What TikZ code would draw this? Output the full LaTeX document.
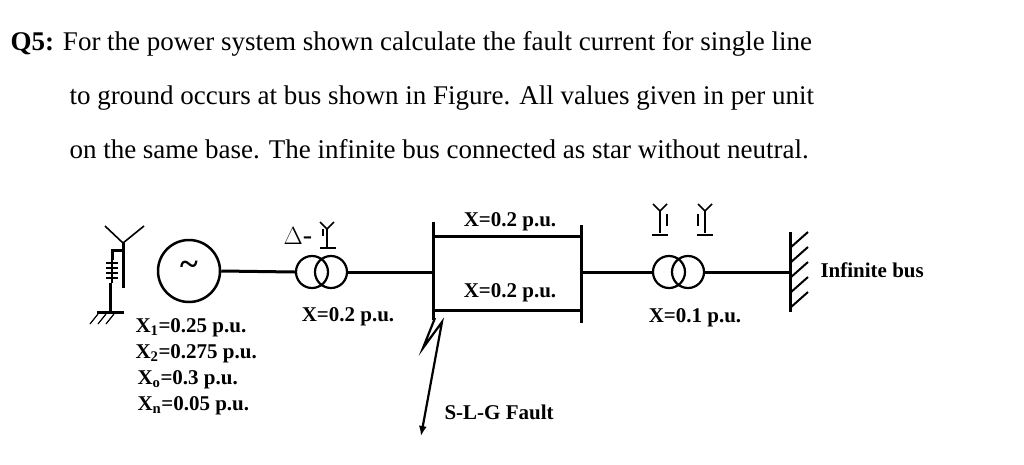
\documentclass[tikz,border=0pt]{standalone}
\usepackage{fontspec}
\usetikzlibrary{arrows.meta}
\setmainfont{Liberation Serif}
\begin{document}
\begin{tikzpicture}[x=1pt,y=-1pt,line width=3pt,
  lbl/.style={font=\fontsize{21}{24}\selectfont\bfseries,inner sep=0pt},
  hdr/.style={font=\fontsize{27}{30}\selectfont,inner sep=0pt,anchor=base west},
  thin/.style={line width=1.6pt}]
\useasboundingbox (0,0) rectangle (1024,464);
% header
\node[hdr] (h1) at (9,50) {\textbf{Q5:} For the power system shown calculate the fault current for single line};
\node[hdr] (h2) at (68,104) {to ground occurs at bus shown in Figure. All values given in per unit};
\node[hdr] (h3) at (68,158) {on the same base. The infinite bus connected as star without neutral.};
% generator grounding
\draw[thin] (105,226) -- (123,243) -- (144,226);
\draw (123,243) -- (123,288);
\draw (123,250) -- (112,250) -- (112,260);
\draw[thin] (112,260) -- (112,283);
\foreach \yy in {263,268,273,278} \draw[line width=1.2pt] (106,\yy) -- (118,\yy);
\draw (110,283) -- (110,312);
\draw (97,312) -- (124,312);
\foreach \xx in {98,106,114} \draw[line width=1.2pt] (\xx,314) -- (\xx-8,324);
% generator
\node[draw,circle,minimum size=62pt,line width=2.5pt] (G) at (189,271) {};
\node[font=\fontsize{34}{34}\selectfont\bfseries] (til) at (189,268) {\textasciitilde};
% transformer 1
\node[draw,circle,minimum size=32pt,line width=2.2pt] (T1a) at (312,272) {};
\node[draw,circle,minimum size=32pt,line width=2.2pt] (T1b) at (331,272) {};
\draw (G.east) -- (T1a.west);
\draw (T1b.east) -- (433,272);
\node[font=\fontsize{28}{28}\selectfont,inner sep=0pt] (delta) at (298,236) {$\Delta$-};
\draw[thin] (320,222) -- (327,229) -- (334,222);
\draw[line width=2.2pt] (327,229) -- (327,247) (323,229)--(323,236);
\draw[line width=2.2pt] (320,248) -- (336,248);
\node[lbl] (t1x) at (348,317) {X=0.2 p.u.};
% bus 1 and lines
\coordinate (B1t) at (433,222); \coordinate (B1b) at (433,320);
\draw (B1t) -- (B1b);
\coordinate (B2t) at (581,225); \coordinate (B2b) at (581,323);
\draw (B2t) -- (B2b);
\draw (433,236) -- (581,236);
\draw (433,310) -- (581,310);
\node[lbl] (l1) at (510,222) {X=0.2 p.u.};
\node[lbl] (l2) at (510,293) {X=0.2 p.u.};
% transformer 2
\node[draw,circle,minimum size=32pt,line width=2.2pt] (T2a) at (669,272) {};
\node[draw,circle,minimum size=32pt,line width=2.2pt] (T2b) at (688,272) {};
\draw (581,272) -- (T2a.west);
\draw (T2b.east) -- (790,272);
\foreach \cx/\d in {660/-1,705/1} {
  \draw[thin] (\cx-7,204) -- (\cx,211) -- (\cx+7,204);
  \draw[line width=2.2pt] (\cx,211) -- (\cx,233) (\cx-7*\d,214) -- (\cx-7*\d,226);
  \draw[line width=2.2pt] (\cx-8,235) -- (\cx+8,235);
}
\node[lbl] (t2x) at (695,318) {X=0.1 p.u.};
% infinite bus
\draw (790,232) -- (790,312);
\foreach \yy in {240,255,270,285,300} \draw[line width=2pt] (790,\yy+8) -- (808,\yy-8);
\node[lbl,anchor=west] (inf) at (819,270) {Infinite bus};
% generator data
\node[lbl,anchor=west] (x1) at (134,328) {X\textsubscript{1}=0.25 p.u.};
\node[lbl,anchor=west] (x2) at (134,354) {X\textsubscript{2}=0.275 p.u.};
\node[lbl,anchor=west] (x0) at (136,380) {X\textsubscript{o}=0.3 p.u.};
\node[lbl,anchor=west] (xn) at (136,406) {X\textsubscript{n}=0.05 p.u.};
% fault
\draw[line width=2.2pt,-{Latex[length=10pt,width=8pt]}] (435,318) -- (423,348) -- (442,322) -- (421,436);
\node[lbl,anchor=west] (f) at (443,412) {S-L-G Fault};
\end{tikzpicture}
\end{document}
